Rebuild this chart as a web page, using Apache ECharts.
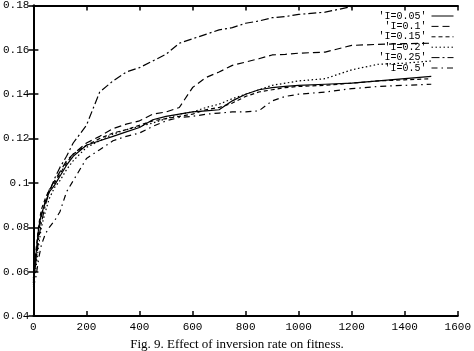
<!DOCTYPE html>
<html>
<head>
<meta charset="utf-8">
<script src="https://cdn.jsdelivr.net/npm/echarts@6/dist/echarts.min.js"></script>
<style>
html,body{margin:0;padding:0;background:#fff;}
#chart{width:474px;height:351px;}
</style>
</head>
<body>
<div id="chart"></div>
<script>
// Generations (x) shared by all runs
var generations = [0, 10, 20, 30, 45, 60, 80, 100, 125, 150, 200, 250, 300, 350, 400, 450, 500, 550, 600, 650, 700, 750, 800, 850, 900, 950, 1000, 1100, 1200, 1300, 1400, 1500];

var fitI005 = [0.056, 0.068, 0.080, 0.086, 0.091, 0.096, 0.099, 0.103, 0.108, 0.112, 0.117, 0.119, 0.121, 0.123, 0.125, 0.1285, 0.130, 0.131, 0.132, 0.1325, 0.133, 0.137, 0.140, 0.142, 0.143, 0.1435, 0.144, 0.1445, 0.145, 0.146, 0.147, 0.148];
var fitI01  = [0.055, 0.066, 0.078, 0.085, 0.092, 0.097, 0.101, 0.105, 0.110, 0.113, 0.118, 0.121, 0.1245, 0.1265, 0.128, 0.131, 0.132, 0.134, 0.143, 0.1475, 0.150, 0.153, 0.1545, 0.156, 0.1577, 0.158, 0.1585, 0.159, 0.162, 0.1625, 0.1628, 0.163];
var fitI015 = [0.057, 0.070, 0.081, 0.088, 0.093, 0.097, 0.100, 0.104, 0.109, 0.113, 0.117, 0.120, 0.1225, 0.124, 0.126, 0.128, 0.129, 0.130, 0.131, 0.133, 0.134, 0.136, 0.139, 0.141, 0.142, 0.143, 0.1435, 0.144, 0.145, 0.146, 0.1465, 0.147];
var fitI02  = [0.054, 0.062, 0.072, 0.080, 0.087, 0.093, 0.098, 0.101, 0.106, 0.110, 0.116, 0.119, 0.122, 0.124, 0.1255, 0.127, 0.129, 0.131, 0.132, 0.134, 0.1355, 0.138, 0.140, 0.142, 0.144, 0.145, 0.146, 0.147, 0.151, 0.1535, 0.154, 0.155];
var fitI025 = [0.055, 0.065, 0.075, 0.082, 0.090, 0.096, 0.102, 0.107, 0.112, 0.118, 0.126, 0.141, 0.146, 0.150, 0.152, 0.155, 0.158, 0.163, 0.165, 0.167, 0.169, 0.170, 0.172, 0.173, 0.1745, 0.175, 0.176, 0.177, 0.1795, 0.181, 0.1815, 0.182];
var fitI05  = [0.053, 0.058, 0.066, 0.072, 0.077, 0.080, 0.083, 0.087, 0.096, 0.101, 0.111, 0.115, 0.119, 0.121, 0.1225, 0.1255, 0.128, 0.1295, 0.130, 0.131, 0.1315, 0.132, 0.132, 0.1325, 0.137, 0.139, 0.140, 0.141, 0.1425, 0.1435, 0.144, 0.1445];

var seriesNames = ["'I=0.05'", "'I=0.1'", "'I=0.15'", "'I=0.2'", "'I=0.25'", "'I=0.5'"];
var seriesValues = [fitI005, fitI01, fitI015, fitI02, fitI025, fitI05];
var dashStyles = ['solid', [7, 4], [4, 3], [1.5, 2.5], [8, 3, 2, 3], [6, 4, 1.5, 4]];

var xTicks = {min: 0, max: 1600, interval: 200};
var yTicks = {min: 0.04, max: 0.18, interval: 0.02};

var mono = 'Liberation Mono';

function pairs(vals) {
  return generations.map(function (g, i) { return [g, vals[i]]; });
}

var series = seriesNames.map(function (name, i) {
  return {
    name: name,
    type: 'line',
    data: pairs(seriesValues[i]),
    symbol: 'none',
    showSymbol: false,
    clip: true,
    lineStyle: {color: '#000', width: 1.2, type: dashStyles[i]},
    itemStyle: {color: '#000'}
  };
});

var chart = echarts.init(document.getElementById('chart'), null, {renderer: 'canvas'});
chart.setOption({
  animation: false,
  backgroundColor: '#fff',
  title: {
    text: 'Fig. 9. Effect of inversion rate on fitness.',
    left: 'center',
    top: 333,
    textStyle: {fontFamily: 'Liberation Serif', fontSize: 13, fontWeight: 'normal', color: '#000'}
  },
  legend: {
    orient: 'vertical',
    right: 20,
    top: 11,
    align: 'right',
    itemWidth: 22,
    itemHeight: 8,
    itemGap: 0.4,
    padding: 0,
    itemStyle: {color: 'rgba(0,0,0,0)', borderWidth: 0, opacity: 0},
    lineStyle: {width: 1},
    textStyle: {fontFamily: mono, fontSize: 10, lineHeight: 10, color: '#000'},
    data: seriesNames
  },
  grid: {left: 31, right: 12, top: 3, bottom: 35, containLabel: false},
  xAxis: [{
    type: 'value', min: xTicks.min, max: xTicks.max, interval: xTicks.interval,
    axisLine: {show: true, lineStyle: {color: '#000', width: 2}},
    axisTick: {show: true, inside: true, length: 5, lineStyle: {color: '#000', width: 1.5}},
    axisLabel: {fontFamily: mono, fontSize: 11, color: '#000', margin: 6, formatter: function (v) { return String(v); }},
    splitLine: {show: false}
  }, {
    type: 'value', position: 'top', min: xTicks.min, max: xTicks.max, interval: xTicks.interval,
    axisLine: {show: true, lineStyle: {color: '#000', width: 2}},
    axisTick: {show: true, inside: true, length: 5, lineStyle: {color: '#000', width: 1.5}},
    axisLabel: {show: false},
    splitLine: {show: false}
  }],
  yAxis: [{
    type: 'value', min: yTicks.min, max: yTicks.max, interval: yTicks.interval,
    axisLine: {show: true, lineStyle: {color: '#000', width: 2}},
    axisTick: {show: true, inside: true, length: 5, lineStyle: {color: '#000', width: 1.5}},
    axisLabel: {fontFamily: mono, fontSize: 11, color: '#000', margin: 4},
    splitLine: {show: false}
  }, {
    type: 'value', position: 'right', min: yTicks.min, max: yTicks.max, interval: yTicks.interval,
    axisLine: {show: true, lineStyle: {color: '#000', width: 2}},
    axisTick: {show: true, inside: true, length: 5, lineStyle: {color: '#000', width: 1.5}},
    axisLabel: {show: false},
    splitLine: {show: false}
  }],
  series: series
});
</script>
</body>
</html>
